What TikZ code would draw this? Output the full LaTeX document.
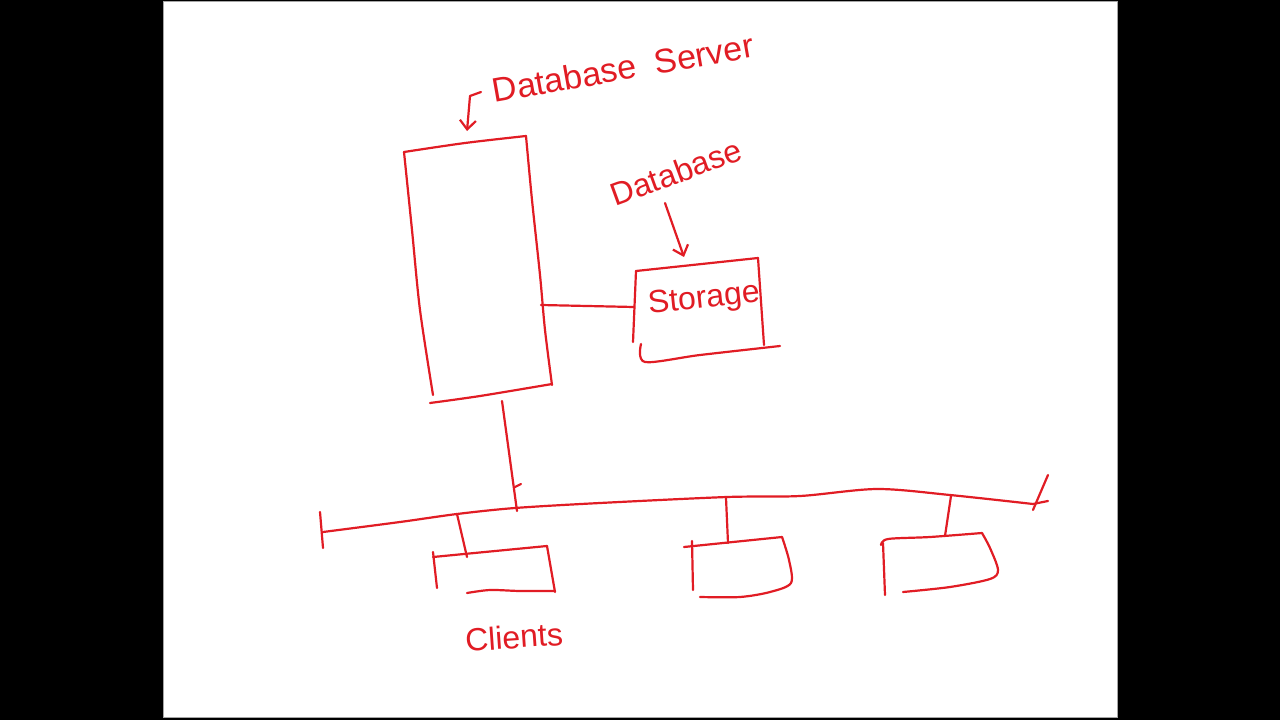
\documentclass[tikz,border=0pt]{standalone}
\usepackage{fontspec}
\setmainfont{Liberation Sans}
\usetikzlibrary{arrows.meta}
\definecolor{penred}{RGB}{225,28,36}

\begin{document}
\begin{tikzpicture}[x=1pt, y=-1pt,
		pen/.style={draw=penred, line width=2.2pt, line cap=round, line join=round},
		barb/.style={-{Straight Barb[length=9pt, width=16pt]}},
		hand/.style={text=penred, inner sep=0pt, font=\fontsize{32}{36}\selectfont}]
		%%%%% START %%%%%
		
		\useasboundingbox (0, 0) rectangle (1280, 720);
		\fill[black] (0, 0) rectangle (1280, 720);
		\draw[fill=white, draw=black!35, line width=1pt] (163, 1) rectangle (1117, 717);
		
		% labels
		\node[hand, rotate=10, font=\fontsize{34}{38}\selectfont] (lblServer) at (623, 68) {Database\ \ Server};
		\node[hand, rotate=20] (lblDb) at (676, 172) {Database};
		\node[hand, rotate=6] (lblStorage) at (704, 300) {Storage};
		\node[hand, rotate=4] (lblClients) at (514, 637) {Clients};
		
		% database server
		\coordinate (srvTL) at (404, 152);
		\coordinate (srvTR) at (526, 136);
		\draw[pen] plot[smooth] coordinates {(srvTL) (465, 143) (srvTR)};
		\draw[pen] plot[smooth] coordinates {(srvTL) (412, 230) (420, 310) (433, 395)};
		\draw[pen] plot[smooth] coordinates {(srvTR) (532, 200) (540, 275) (545, 330) (552, 385)};
		\draw[pen] plot[smooth] coordinates {(430, 403) (480, 396) (552, 384)};
		\coordinate (srvR) at (541, 305);
		\coordinate (srvB) at (502, 401);
		
		% storage
		\coordinate (stoTL) at (636, 271);
		\coordinate (stoTR) at (758, 258);
		\draw[pen] (stoTL) -- (stoTR);
		\draw[pen] (stoTL) -- (633, 342);
		\draw[pen] (stoTR) -- (764, 345);
		\draw[pen] plot[smooth] coordinates {(641, 344) (645, 362) (700, 355) (780, 346)};
		\coordinate (stoL) at (634, 307);
		\coordinate (stoT) at (684, 257);
		
		% arrows from the labels
		\coordinate (srvTip) at (467, 131);
		\draw[pen, barb] (481, 92) -- (470, 96) -- (srvTip);
		\coordinate (dbTail) at (665, 203);
		\draw[pen, barb] (dbTail) -- (stoT);
		
		% server to storage, server to bus
		\draw[pen] (srvR) -- (stoL);
		\coordinate (busSrv) at (517, 511);
		\draw[pen] (srvB) -- (busSrv);
		\draw[pen] (515, 487) -- (521, 484);
		
		% bus
		\coordinate (busL) at (323, 532);
		\coordinate (busR) at (1033, 504);
		\draw[pen] plot[smooth] coordinates {(busL) (400, 522) (457, 514) (515, 508) (600, 503) (727, 497) (800, 496) (877, 489) (950, 495) (busR)};
		\draw[pen] (320, 512) -- (323, 548);
		\draw[pen] (1048, 475) -- (1033, 510);
		\draw[pen] (busR) -- (1048, 501);
		
		% client one
		\coordinate (busA) at (457, 514);
		\coordinate (cliA) at (467, 557);
		\draw[pen] (busA) -- (cliA);
		\draw[pen] (433, 557) -- (547, 546);
		\draw[pen] (433, 552) -- (437, 588);
		\draw[pen] (547, 546) -- (555, 592);
		\draw[pen] plot[smooth] coordinates {(467, 593) (490, 590) (520, 591) (555, 591)};
		
		% client two
		\coordinate (busB) at (726, 498);
		\coordinate (cliB) at (728, 543);
		\draw[pen] (busB) -- (cliB);
		\draw[pen] (684, 547) -- (782, 537);
		\draw[pen] (692, 541) -- (693, 590);
		\draw[pen] plot[smooth] coordinates {(782, 537) (789, 560) (791, 583) (770, 592) (740, 597) (700, 597)};
		
		% client three
		\coordinate (busC) at (951, 496);
		\coordinate (cliC) at (945, 536);
		\draw[pen] (busC) -- (cliC);
		\draw[pen] plot[smooth] coordinates {(881, 545) (888, 539) (930, 537) (982, 533)};
		\draw[pen] (883, 543) -- (885, 595);
		\draw[pen] plot[smooth] coordinates {(982, 533) (990, 548) (998, 570) (990, 579) (950, 587) (903, 592)};
		
		%%%%% END %%%%%
\end{tikzpicture}
\end{document}
